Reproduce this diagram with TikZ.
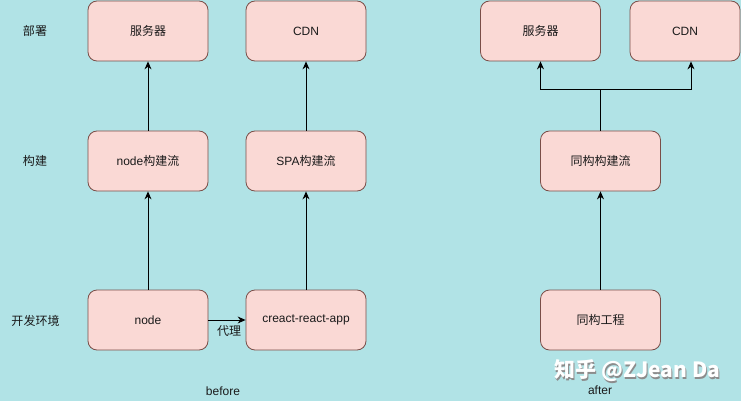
\documentclass[tikz,border=0pt]{standalone}
\usepackage{fontspec}
\setmainfont{Liberation Sans}
\newfontfamily\cjk{Noto Sans CJK SC}
\newcommand{\zh}[1]{{\cjk #1}}
\usetikzlibrary{arrows.meta}
\definecolor{bgc}{HTML}{B1E3E6}
\definecolor{boxfill}{HTML}{FAD9D5}
\definecolor{boxline}{HTML}{7A4E48}
\definecolor{txt}{HTML}{1A1A1A}
\begin{document}
\begin{tikzpicture}[x=1pt,y=-1pt,
  box/.style={draw=boxline, fill=boxfill, rounded corners=9pt, minimum width=120pt, minimum height=60pt, inner sep=0pt, text=txt, font=\fontsize{12}{14}\selectfont, line width=0.8pt},
  conn/.style={line width=1pt, -{Stealth[length=8pt,width=7pt]}},
  lbl/.style={text=txt, font=\fontsize{12}{14}\selectfont, inner sep=0pt}]
\fill[bgc] (0,0) rectangle (741,401);
\useasboundingbox (0,0) rectangle (741,401);
% before
\node[box] (s1) at (148,31) {\zh{服务器}};
\node[box] (c1) at (306,31) {CDN};
\node[box] (nb) at (148,161) {node\zh{构建流}};
\node[box] (sb) at (306,161) {SPA\zh{构建流}};
\node[box] (nd) at (148,320) {node};
\node[box] (cra) at (306,320) {creact-react-app};
% after
\node[box] (s2) at (540.5,31) {\zh{服务器}};
\node[box, minimum width=110pt] (c2) at (685,31) {CDN};
\node[box] (tb) at (600.5,161) {\zh{同构构建流}};
\node[box] (tg) at (600.5,320) {\zh{同构工程}};
% connectors
\draw[conn] (nb) -- (s1);
\draw[conn] (sb) -- (c1);
\draw[conn] (nd) -- (nb);
\draw[conn] (cra) -- (sb);
\draw[conn] (nd) -- (cra);
\node[lbl] (dl) at (229,331) {\zh{代理}};
\draw[conn] (tg) -- (tb);
\coordinate (br) at (600.5,90);
\coordinate (cdnin) at (691,61.4);
\draw[line width=1pt] (tb.north) -- (br);
\draw[conn] (br) -| (s2.south);
\draw[conn] (br) -| (cdnin);
% row labels
\node[lbl] (l1) at (35,31) {\zh{部署}};
\node[lbl] (l2) at (35,161) {\zh{构建}};
\node[lbl] (l3) at (35.5,320.5) {\zh{开发环境}};
\node[lbl] (bf) at (223,391) {before};
\node[lbl] (af) at (600,390) {after};
% watermark
\node[text=black!45, font=\cjk\bfseries\fontsize{21}{24}\selectfont, inner sep=0pt] (wms) at (638.5,372.5) {知乎 @ZJean Da};
\node[text=white, font=\cjk\bfseries\fontsize{21}{24}\selectfont, inner sep=0pt] (wm) at (637.5,371) {知乎 @ZJean Da};
\end{tikzpicture}
\end{document}
